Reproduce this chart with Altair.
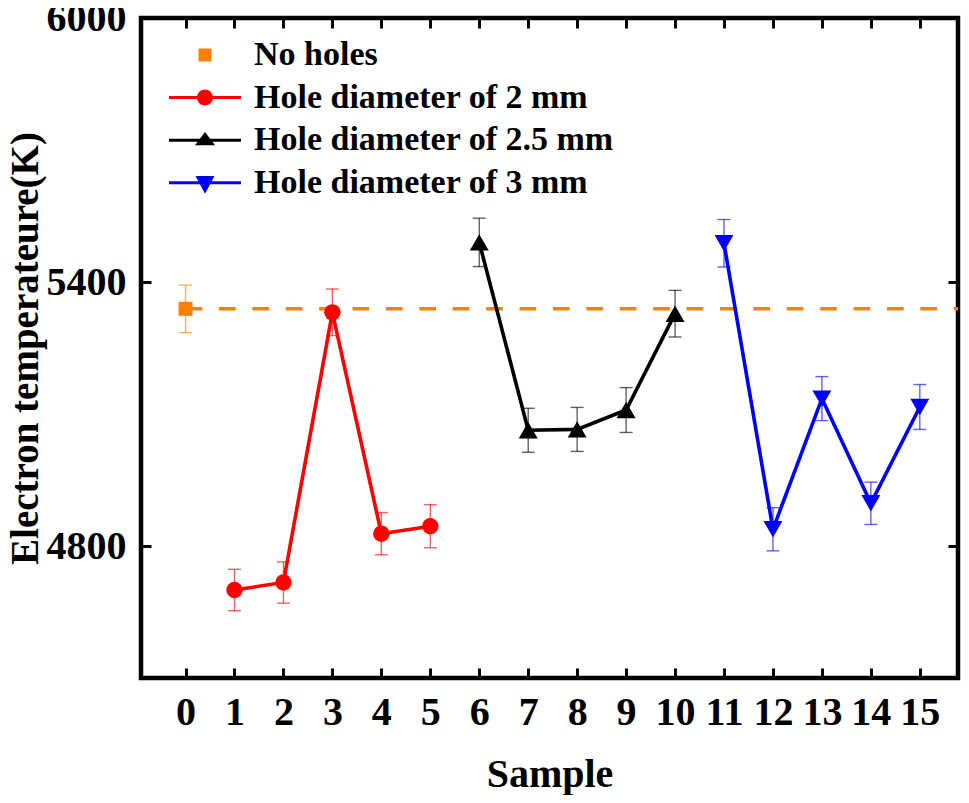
import altair as alt
import pandas as pd

# ---------------- data ----------------
series_names = ["No holes", "Hole diameter of 2 mm", "Hole diameter of 2.5 mm", "Hole diameter of 3 mm"]
samples = list(range(16))
sample_series = ([series_names[0]] + [series_names[1]] * 5 +
                 [series_names[2]] * 5 + [series_names[3]] * 5)
temps = [5339, 4700, 4717, 5331, 4828, 4845, 5490, 5063, 5065, 5109,
         5328, 5488, 4838, 5135, 4897, 5116]
errors = [54, 47, 47, 53, 48, 49, 55, 50, 50, 51, 53, 54, 49, 50, 48, 51]
y_ticks = [4800, 5400, 6000]

# ---------------- styles ----------------
colors = ["#FF8000", "#FF0000", "#000000", "#0000FF"]
marker_shapes = ["square", "circle", "triangle-up", "triangle-down"]
marker_sizes = [196, 270, 360, 360]
legend_paths = [
    "M-0.433,-0.433H0.433V0.433H-0.433Z",
    "M-2.4,-0.1H2.4V0.1H-2.4Z"
    "M-0.533,0A0.533,0.533,0,1,1,0.533,0A0.533,0.533,0,1,1,-0.533,0Z",
    "M-2.4,-0.1H2.4V0.1H-2.4Z"
    "M0,-0.553L0.667,0.333L-0.667,0.333Z",
    "M-2.4,-0.1H2.4V0.1H-2.4Z"
    "M-0.633,-0.447L0.633,-0.447L0,0.733Z",
]
FONT = "Liberation Serif"
x_domain = [-0.91, 15.78]
y_domain = [4500, 6000]

df = pd.DataFrame({
    "sample": samples,
    "series": sample_series,
    "temp": temps,
    "err": errors,
})
df["lo"] = df["temp"] - df["err"]
df["hi"] = df["temp"] + df["err"]

ref_df = pd.DataFrame({"x": [samples[0]], "x2": [x_domain[1]], "y": [temps[0]]})

xs = alt.Scale(domain=x_domain, nice=False, zero=False)
ys = alt.Scale(domain=y_domain, nice=False, zero=False)

axis_common = dict(
    domain=False, grid=False, tickSize=10, offset=-10, tickWidth=3,
    tickColor="black", labelFlush=False,
)

x_axis_bottom = alt.Axis(
    orient="bottom", values=samples, format="d", labelFont=FONT, labelFontSize=40,
    labelFontWeight="bold", labelColor="black", labelPadding=14,
    title="Sample", titleFont=FONT, titleFontSize=40, titleFontWeight="bold",
    titleColor="black", titlePadding=22, **axis_common)
y_axis_left = alt.Axis(
    orient="left", values=y_ticks, format="d", labelFont=FONT, labelFontSize=40,
    labelFontWeight="bold", labelColor="black", labelPadding=15,
    title="Electron temperateure(K)", titleFont=FONT, titleFontSize=39,
    titleFontWeight="bold", titleColor="black", titlePadding=1, **axis_common)
x_axis_top = alt.Axis(orient="top", values=samples, labels=False, title=None, **axis_common)
y_axis_right = alt.Axis(orient="right", values=y_ticks, labels=False, title=None, **axis_common)

# data layers: colour scale listed in reverse order so that it stays separate
# from the legend's fill scale (which is listed in the legend order)
color_main = alt.Scale(domain=series_names[::-1], range=colors[::-1])

base = alt.Chart(df)

ref_line = alt.Chart(ref_df).mark_rule(
    color=colors[0], strokeWidth=3.5, strokeDash=[16.7, 16.7]
).encode(
    x=alt.X("x:Q", scale=xs, axis=None),
    x2="x2:Q",
    y=alt.Y("y:Q", scale=ys, axis=None),
)

lines = base.transform_filter(
    alt.datum.series != series_names[0]
).mark_line(strokeWidth=3.6).encode(
    x=alt.X("sample:Q", scale=xs, axis=x_axis_bottom),
    y=alt.Y("temp:Q", scale=ys, axis=y_axis_left),
    color=alt.Color("series:N", scale=color_main, legend=None),
)

bars = base.mark_rule(strokeWidth=1.4, opacity=0.62).encode(
    x=alt.X("sample:Q", scale=xs, axis=x_axis_top),
    y=alt.Y("lo:Q", scale=ys, axis=y_axis_right),
    y2="hi:Q",
    color=alt.Color("series:N", scale=color_main, legend=None),
)
caps_lo = base.mark_tick(orient="horizontal", size=13, thickness=1.4, opacity=0.62).encode(
    x=alt.X("sample:Q", scale=xs, axis=None),
    y=alt.Y("lo:Q", scale=ys, axis=None),
    color=alt.Color("series:N", scale=color_main, legend=None),
)
caps_hi = base.mark_tick(orient="horizontal", size=13, thickness=1.4, opacity=0.62).encode(
    x=alt.X("sample:Q", scale=xs, axis=None),
    y=alt.Y("hi:Q", scale=ys, axis=None),
    color=alt.Color("series:N", scale=color_main, legend=None),
)

marker_layers = []
for name, shp, sz in zip(series_names, marker_shapes, marker_sizes):
    marker_layers.append(
        base.transform_filter(alt.datum.series == name).mark_point(
            filled=True, opacity=1, shape=shp, size=sz
        ).encode(
            x=alt.X("sample:Q", scale=xs, axis=None),
            y=alt.Y("temp:Q", scale=ys, axis=None),
            color=alt.Color("series:N", scale=color_main, legend=None),
        )
    )

leg = alt.Legend(
    title=None, orient="none", legendX=26, legendY=20, padding=0,
    symbolSize=900, symbolStrokeWidth=0, symbolOffset=21,
    labelFont=FONT, labelFontSize=34, labelFontWeight="bold", labelColor="black",
    labelLimit=0, labelOffset=32, rowPadding=8.6,
)
legend_layer = base.transform_filter("false").mark_point(
    filled=True, opacity=1
).encode(
    x=alt.X("sample:Q", scale=xs, axis=None),
    y=alt.Y("temp:Q", scale=ys, axis=None),
    fill=alt.Fill("series:N", scale=alt.Scale(domain=series_names, range=colors), legend=leg),
    shape=alt.Shape("series:N", scale=alt.Scale(domain=series_names, range=legend_paths), legend=leg),
)

chart = alt.layer(
    ref_line, lines, bars, caps_lo, caps_hi, *marker_layers, legend_layer
).resolve_axis(
    x="independent", y="independent"
).properties(
    width=817, height=660,
    background="white",
    autosize=alt.AutoSizeParams(type="none"),
    padding={"left": 133, "top": 10, "right": 3, "bottom": 117},
).configure_view(
    stroke="black", strokeWidth=4.5
)

chart.save("out.html", embed_options={"renderer": "svg", "actions": False})
